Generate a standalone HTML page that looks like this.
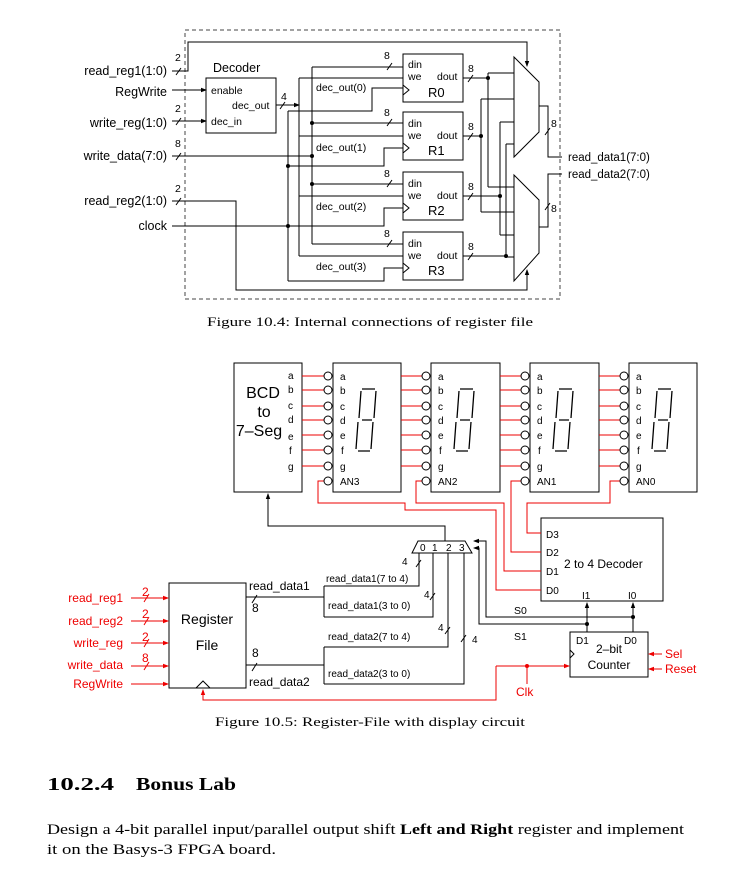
<!DOCTYPE html>
<html><head><meta charset="utf-8"><style>
html,body{margin:0;padding:0;background:#fff;}
svg{display:block;}
.s{font-family:"Liberation Sans",sans-serif;}
.r{font-family:"Liberation Serif",serif;}
</style></head><body>
<svg width="752" height="873" viewBox="0 0 752 873" xmlns="http://www.w3.org/2000/svg">
<defs>
<marker id="a" markerWidth="6" markerHeight="6" refX="5" refY="3" orient="auto" markerUnits="userSpaceOnUse"><path d="M0,0.8 L6,3 L0,5.2z" fill="#000"/></marker>
<marker id="ar" markerWidth="6" markerHeight="6" refX="5" refY="3" orient="auto" markerUnits="userSpaceOnUse"><path d="M0,0.8 L6,3 L0,5.2z" fill="#e00"/></marker>
</defs>
<rect width="752" height="873" fill="#fff"/>

<!-- ============ TOP DIAGRAM ============ -->
<g fill="none" stroke="#000" stroke-width="1">
<rect x="185" y="30" width="375" height="269" stroke="#444" stroke-dasharray="4,3"/>
<rect x="206" y="78" width="70" height="55"/>
<rect x="403" y="54" width="60" height="48"/>
<rect x="403" y="112" width="60" height="48"/>
<rect x="403" y="172" width="60" height="48"/>
<rect x="403" y="232" width="60" height="48"/>
<path d="M403,85 l6,5 l-6,5 M403,143 l6,5 l-6,5 M403,203 l6,5 l-6,5 M403,263 l6,5 l-6,5"/>
<polygon points="514,57 539,82 539,132 514,157"/>
<polygon points="514,175 539,200 539,253 514,281"/>
<path d="M172,71 H188 V42 H527 V66" marker-end="url(#a)"/>
<path d="M172,90 H206" marker-end="url(#a)"/>
<path d="M172,121 H206" marker-end="url(#a)"/>
<path d="M172,156 H312"/>
<path d="M172,201 H236 V290 H527 V270" marker-end="url(#a)"/>
<path d="M172,226 H384 V208 H403"/>
<path d="M176,75 l5,-7 M176,125 l5,-7 M176,160 l5,-7 M176,205 l5,-7"/>
<path d="M276,105 H299" marker-end="url(#a)"/>
<path d="M280,109 l5,-7"/>
<path d="M299,78 V256"/>
<path d="M299,78 H403 M299,136 H403 M299,196 H403 M299,256 H403"/>
<path d="M312,67 V244"/>
<path d="M312,67 H403 M312,123 H403 M312,184 H403 M312,244 H403"/>
<path d="M387,70 l5,-7 M387,126 l5,-7 M387,187 l5,-7 M387,247 l5,-7"/>
<path d="M288,111 V281"/>
<path d="M288,111 H372 V88 H403 M288,166 H384 V148 H403 M288,281 H384 V268 H403"/>
<path d="M463,78 H488 M463,136 H481 M463,196 H500 M463,256 H506"/>
<path d="M468,82 l5,-7 M468,140 l5,-7 M468,200 l5,-7 M468,260 l5,-7"/>
<path d="M488,73 V187 M481,99 V212 M500,122 V235 M506,144 V257"/>
<path d="M488,73 H514 M481,99 H514 M500,122 H514 M506,144 H514"/>
<path d="M488,187 H514 M481,212 H514 M500,235 H514 M506,257 H514"/>
<path d="M539,106 H548 V157 H562 M539,227 H548 V174 H562"/>
<path d="M545,135 l5,-7 M545,210 l5,-7"/>
</g>
<g fill="#000">
<circle cx="312" cy="156" r="2"/><circle cx="312" cy="123" r="2"/><circle cx="312" cy="184" r="2"/>
<circle cx="288" cy="166" r="2"/><circle cx="288" cy="226" r="2"/>
<circle cx="488" cy="78" r="2"/><circle cx="481" cy="136" r="2"/><circle cx="500" cy="196" r="2"/><circle cx="506" cy="256" r="2"/>
</g>
<g class="s" font-size="12.5" fill="#000">
<g text-anchor="end">
<text x="167" y="75">read_reg1(1:0)</text>
<text x="167" y="96">RegWrite</text>
<text x="167" y="127">write_reg(1:0)</text>
<text x="167" y="160">write_data(7:0)</text>
<text x="167" y="205">read_reg2(1:0)</text>
<text x="167" y="230">clock</text>
</g>
<text x="213" y="72" font-size="12.5">Decoder</text>
<g font-size="10.5">
<text x="211" y="94">enable</text><text x="232" y="109">dec_out</text><text x="211" y="125">dec_in</text>
<text x="175" y="61">2</text><text x="175" y="112">2</text><text x="175" y="147">8</text><text x="175" y="192">2</text>
<text x="281" y="100">4</text>
<text x="316" y="91">dec_out(0)</text><text x="316" y="151">dec_out(1)</text><text x="316" y="210">dec_out(2)</text><text x="316" y="270">dec_out(3)</text>
<text x="384" y="59">8</text><text x="384" y="116">8</text><text x="384" y="177">8</text><text x="384" y="237">8</text>
<text x="468" y="72">8</text><text x="468" y="130">8</text><text x="468" y="190">8</text><text x="468" y="250">8</text>
<text x="551" y="127">8</text><text x="551" y="212">8</text>
<text x="408" y="68">din</text><text x="408" y="80">we</text><text x="437" y="80">dout</text>
<text x="408" y="127">din</text><text x="408" y="139">we</text><text x="437" y="139">dout</text>
<text x="408" y="187">din</text><text x="408" y="199">we</text><text x="437" y="199">dout</text>
<text x="408" y="247">din</text><text x="408" y="259">we</text><text x="437" y="259">dout</text>
</g>
<g font-size="13"><text x="428" y="97">R0</text><text x="428" y="155">R1</text><text x="428" y="215">R2</text><text x="428" y="275">R3</text></g>
<text x="568" y="161" font-size="11.5">read_data1(7:0)</text>
<text x="568" y="178" font-size="11.5">read_data2(7:0)</text>
</g>
<text class="r" x="207" y="326" font-size="13" textLength="326" lengthAdjust="spacingAndGlyphs">Figure 10.4: Internal connections of register file</text>

<!-- ============ BOTTOM DIAGRAM ============ -->
<g fill="none" stroke="#000" stroke-width="1">
<rect x="234" y="363" width="68" height="129"/>
<rect x="333" y="363" width="68" height="129"/>
<rect x="431" y="363" width="69" height="129"/>
<rect x="530" y="363" width="69" height="129"/>
<rect x="629" y="363" width="68" height="129"/>
<rect x="541" y="518" width="122" height="83"/>
<rect x="570" y="632" width="78" height="45"/>
<rect x="169" y="583" width="77" height="105"/>
<path d="M196,688 l7,-7 l7,7"/>
<path d="M570,650 l4,4 l-4,4"/>
<polygon points="418,541 465,541 472,553 412,553"/>
<path d="M445,541 V526 H268 V494" marker-end="url(#a)"/>
<path d="M246,597 H324 M246,665 H324"/>
<path d="M252,603 l5,-8 M252,671 l5,-8"/>
<path d="M324,586 V617 M324,647 V684"/>
<path d="M324,586 H419 V553 M324,617 H433 V553 M324,647 H448 V553 M324,684 H464 V553"/>
<path d="M416,567 l5,-7 M430,600 l5,-7 M445,634 l5,-7 M461,642 l5,-7"/>
<path d="M633,617 H486 V541 H474" marker-end="url(#a)"/>
<path d="M587,624 H479 V548 H474" marker-end="url(#a)"/>
<path d="M587,632 V603" marker-end="url(#a)"/>
<path d="M633,632 V603" marker-end="url(#a)"/>
</g>
<g fill="#000"><circle cx="587" cy="624" r="2"/><circle cx="633" cy="617" r="2"/></g>
<g fill="none" stroke="#e00" stroke-width="1">
<path d="M302,376 H324 M302,390 H324 M302,406 H324 M302,420 H324 M302,435 H324 M302,450 H324 M302,466 H324"/>
<path d="M401,376 H422 M401,390 H422 M401,406 H422 M401,420 H422 M401,435 H422 M401,450 H422 M401,466 H422"/>
<path d="M500,376 H521 M500,390 H521 M500,406 H521 M500,420 H521 M500,435 H521 M500,450 H521 M500,466 H521"/>
<path d="M599,376 H620 M599,390 H620 M599,406 H620 M599,420 H620 M599,435 H620 M599,450 H620 M599,466 H620"/>
<path d="M324,481 H318 V503 H405 V510 H496 V590 H541"/>
<path d="M422,481 H416 V503 H504 V571 H541"/>
<path d="M521,481 H511 V552 H541"/>
<path d="M620,481 H610 V503 H527 V533 H541"/>
<path d="M131,598 H168" marker-end="url(#ar)"/>
<path d="M131,621 H168" marker-end="url(#ar)"/>
<path d="M131,643 H168" marker-end="url(#ar)"/>
<path d="M131,666 H168" marker-end="url(#ar)"/>
<path d="M131,684 H168" marker-end="url(#ar)"/>
<path d="M144,602 l5,-8 M144,625 l5,-8 M144,647 l5,-8 M144,670 l5,-8"/>
<path d="M527,666 V684 M496,666 H569" marker-end="url(#ar)"/>
<path d="M496,666 V700 H203 V690" marker-end="url(#ar)"/>
<path d="M662,654 H649" marker-end="url(#ar)"/>
<path d="M662,669 H649" marker-end="url(#ar)"/>
</g>
<circle cx="527" cy="666" r="2" fill="#e00"/>
<g fill="#fff" stroke="#000" stroke-width="1">
<circle cx="328" cy="376" r="4"/><circle cx="328" cy="390" r="4"/><circle cx="328" cy="406" r="4"/><circle cx="328" cy="420" r="4"/><circle cx="328" cy="435" r="4"/><circle cx="328" cy="450" r="4"/><circle cx="328" cy="466" r="4"/><circle cx="328" cy="481" r="4"/>
<circle cx="426" cy="376" r="4"/><circle cx="426" cy="390" r="4"/><circle cx="426" cy="406" r="4"/><circle cx="426" cy="420" r="4"/><circle cx="426" cy="435" r="4"/><circle cx="426" cy="450" r="4"/><circle cx="426" cy="466" r="4"/><circle cx="426" cy="481" r="4"/>
<circle cx="525" cy="376" r="4"/><circle cx="525" cy="390" r="4"/><circle cx="525" cy="406" r="4"/><circle cx="525" cy="420" r="4"/><circle cx="525" cy="435" r="4"/><circle cx="525" cy="450" r="4"/><circle cx="525" cy="466" r="4"/><circle cx="525" cy="481" r="4"/>
<circle cx="624" cy="376" r="4"/><circle cx="624" cy="390" r="4"/><circle cx="624" cy="406" r="4"/><circle cx="624" cy="420" r="4"/><circle cx="624" cy="435" r="4"/><circle cx="624" cy="450" r="4"/><circle cx="624" cy="466" r="4"/><circle cx="624" cy="481" r="4"/>
</g>
<g fill="none" stroke="#000" stroke-width="1.3">
<path id="d" d="M362,389 H375 M362,420 H372 M358,451 H370 M361,391 L359,418 M376,391 L374,418 M358,422 L356,449 M373,422 L371,449"/>
<use href="#d" x="98"/><use href="#d" x="197"/><use href="#d" x="296"/>
</g>
<g class="s" fill="#000">
<g font-size="16" text-anchor="middle"><text x="263" y="398">BCD</text><text x="264" y="417">to</text><text x="259" y="436">7–Seg</text></g>
<g font-size="10">
<text x="288" y="379">a</text><text x="288" y="393">b</text><text x="288" y="409">c</text><text x="288" y="423">d</text><text x="288" y="440">e</text><text x="289" y="454">f</text><text x="288" y="470">g</text>
<g id="pl"><text x="340" y="380">a</text><text x="340" y="394">b</text><text x="340" y="410">c</text><text x="340" y="424">d</text><text x="340" y="439">e</text><text x="341" y="454">f</text><text x="340" y="470">g</text></g>
<use href="#pl" x="98"/><use href="#pl" x="197"/><use href="#pl" x="296"/>
<text x="340" y="485">AN3</text><text x="438" y="485">AN2</text><text x="537" y="485">AN1</text><text x="636" y="485">AN0</text>
<text x="546" y="538">D3</text><text x="546" y="556">D2</text><text x="546" y="575">D1</text><text x="546" y="594">D0</text>
<text x="582" y="599">I1</text><text x="628" y="599">I0</text>
<text x="576" y="644">D1</text><text x="624" y="644">D0</text>
<text x="420" y="551">0</text><text x="432" y="551">1</text><text x="446" y="551">2</text><text x="459" y="551">3</text>
<text x="402" y="565">4</text><text x="424" y="598">4</text><text x="438" y="631">4</text><text x="472" y="643">4</text>
<text x="326" y="582">read_data1(7 to 4)</text><text x="328" y="609">read_data1(3 to 0)</text>
<text x="328" y="640">read_data2(7 to 4)</text><text x="328" y="677">read_data2(3 to 0)</text>
<text x="514" y="614" font-size="10.5">S0</text><text x="514" y="640" font-size="10.5">S1</text>
</g>
<text x="564" y="568" font-size="12">2 to 4 Decoder</text>
<text x="609" y="653" font-size="12" text-anchor="middle">2–bit</text>
<text x="609" y="669" font-size="12" text-anchor="middle">Counter</text>
<text x="207" y="624" font-size="14" text-anchor="middle">Register</text>
<text x="207" y="650" font-size="14" text-anchor="middle">File</text>
<g font-size="12"><text x="249" y="590">read_data1</text><text x="252" y="612">8</text><text x="252" y="657">8</text><text x="249" y="686">read_data2</text></g>
</g>
<g class="s" fill="#e00" font-size="12">
<g text-anchor="end"><text x="123" y="602">read_reg1</text><text x="123" y="625">read_reg2</text><text x="123" y="647">write_reg</text><text x="123" y="669">write_data</text><text x="123" y="688">RegWrite</text></g>
<text x="142" y="596">2</text><text x="142" y="618">2</text><text x="142" y="641">2</text><text x="142" y="662">8</text>
<text x="665" y="658">Sel</text><text x="665" y="673">Reset</text><text x="516" y="696">Clk</text>
</g>
<text class="r" x="215" y="726" font-size="13" textLength="310" lengthAdjust="spacingAndGlyphs">Figure 10.5: Register-File with display circuit</text>

<text class="r" x="47" y="790" font-size="18" font-weight="bold" textLength="67" lengthAdjust="spacingAndGlyphs">10.2.4</text>
<text class="r" x="136" y="790" font-size="18" font-weight="bold" textLength="100" lengthAdjust="spacingAndGlyphs">Bonus Lab</text>
<text class="r" x="47" y="834" font-size="15" textLength="637" lengthAdjust="spacingAndGlyphs">Design a 4-bit parallel input/parallel output shift <tspan font-weight="bold">Left and Right</tspan> register and implement</text>
<text class="r" x="47" y="854" font-size="15" textLength="229" lengthAdjust="spacingAndGlyphs">it on the Basys-3 FPGA board.</text>
</svg>
</body></html>
